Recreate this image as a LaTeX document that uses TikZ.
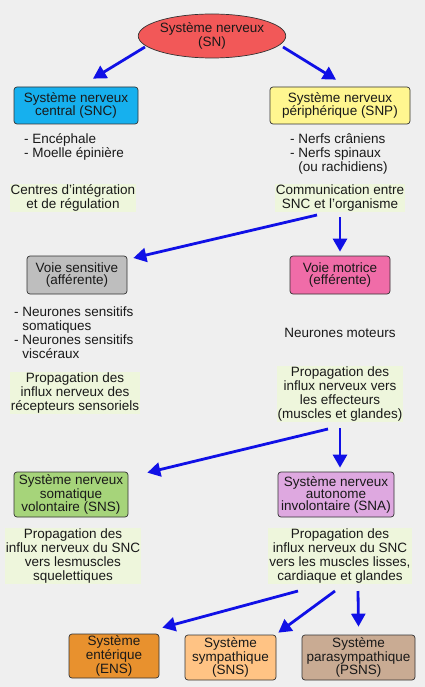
\documentclass[tikz,border=0pt]{standalone}
\usepackage{fontspec}
\setmainfont{Liberation Sans}
\usetikzlibrary{arrows.meta,shapes.geometric}
\definecolor{pagegray}{HTML}{EFEFEF}
\definecolor{flowblue}{HTML}{1010E6}
\definecolor{hlgreen}{HTML}{EEF6DC}
\definecolor{snred}{HTML}{F25858}
\definecolor{snccyan}{HTML}{16B0EE}
\definecolor{snpyellow}{HTML}{FFF690}
\definecolor{sensgray}{HTML}{BEBEBE}
\definecolor{motpink}{HTML}{F06CA8}
\definecolor{somagreen}{HTML}{A6D47A}
\definecolor{autoplum}{HTML}{DEA8E0}
\definecolor{ensorange}{HTML}{E8912E}
\definecolor{sympapricot}{HTML}{FFC384}
\definecolor{paratan}{HTML}{C9AB93}

\begin{document}
\begin{tikzpicture}[x=1pt, y=-1pt,
  every node/.style={align=center, font=\fontsize{13.5}{12}\selectfont, text=black!90},
  box/.style={draw=black!80, rectangle, rounded corners=3pt, line width=0.7pt, inner sep=1pt},
  txt/.style={font=\fontsize{13.5}{14}\selectfont, inner sep=1pt},
  hl/.style={txt, fill=hlgreen},
  flow/.style={-{Triangle[length=13pt,width=14pt]}, line width=2.8pt, draw=flowblue}]
\fill[pagegray] (0,0) rectangle (425,687);
\useasboundingbox (0,0) rectangle (425,687);

% Draw the systems as boxes
\node[draw=black!80, ellipse, fill=snred, line width=0.7pt, inner sep=0pt, minimum width=136pt, minimum height=44pt] (sn) at (212,36) {Système nerveux\\(SN)};
\node[box, fill=snccyan, minimum width=124pt, minimum height=37pt] (snc) at (76,105.5) {Système nerveux\\central (SNC)};
\node[box, fill=snpyellow, minimum width=140pt, minimum height=37pt] (snp) at (340,105.5) {Système nerveux\\périphérique (SNP)};
\node[box, fill=sensgray, minimum width=100pt, minimum height=38pt] (sens) at (77,275) {Voie sensitive\\(afférente)};
\node[box, fill=motpink, minimum width=100pt, minimum height=38pt] (mot) at (340,275) {Voie motrice\\(efférente)};
\node[box, fill=somagreen, minimum width=114pt, minimum height=45pt] (soma) at (71,494.5) {Système nerveux\\somatique\\volontaire (SNS)};
\node[box, fill=autoplum, minimum width=116pt, minimum height=45pt] (auto) at (336,494.5) {Système nerveux\\autonome\\involontaire (SNA)};
\node[box, fill=ensorange, minimum width=90pt, minimum height=44pt] (ens) at (114,656) {Système\\entérique\\(ENS)};
\node[box, fill=sympapricot, minimum width=91pt, minimum height=45pt] (symp) at (230.5,657.5) {Système\\sympathique\\(SNS)};
\node[box, fill=paratan, minimum width=113pt, minimum height=45pt] (para) at (358.5,657.5) {Système\\parasympathique\\(PSNS)};

% Texts under the boxes
\node[txt, align=left, anchor=west] (snclist) at (23,146.5) {- Encéphale\\- Moelle épinière};
\node[txt, align=left, anchor=west] (snplist) at (289,153.5) {- Nerfs crâniens\\- Nerfs spinaux\\\hphantom{- }(ou rachidiens)};
\node[hl] (integ) at (73,198) {Centres d'intégration\\et de régulation};
\node[hl] (comm) at (340,198) {Communication entre\\SNC et l'organisme};
\node[txt, align=left, anchor=west] (senslist) at (13,333) {- Neurones sensitifs\\\hphantom{- }somatiques\\- Neurones sensitifs\\\hphantom{- }viscéraux};
\node[txt] (moteurs) at (340,333) {Neurones moteurs};
\node[hl] (propsens) at (75,393) {Propagation des\\influx nerveux des\\récepteurs sensoriels};
\node[hl] (propmot) at (340,394) {Propagation des\\influx nerveux vers\\les effecteurs\\(muscles et glandes)};
\node[hl] (propsoma) at (73,556) {Propagation des\\influx nerveux du SNC\\vers lesmuscles\\squelettiques};
\node[hl] (propauto) at (340,556) {Propagation des\\influx nerveux du SNC\\vers les muscles lisses,\\cardiaque et glandes};

% Draw arrows
\draw[flow] ([shift={(-67,11)}]sn.center) -- ([shift={(17,-8)}]snc.north);
\draw[flow] ([shift={(71,11)}]sn.center) -- ([shift={(-4,-7)}]snp.north);
\draw[flow] ([shift={(-23,17)}]comm.center) -- ([shift={(6,-17)}]sens.east);
\draw[flow] ([shift={(0,19)}]comm.center) -- ([shift={(0,-4)}]mot.north);
\draw[flow] ([shift={(-12,35)}]propmot.center) -- ([shift={(19,1)}]soma.north east);
\draw[flow] ([shift={(0,34)}]propmot.center) -- ([shift={(4,-4)}]auto.north);
\draw[flow] ([shift={(-42,35)}]propauto.center) -- ([shift={(3,-6)}]ens.north east);
\draw[flow] ([shift={(-5,35)}]propauto.center) -- ([shift={(2,-2)}]symp.north east);
\draw[flow] ([shift={(18,35)}]propauto.center) -- ([shift={(0,-8)}]para.north);
\end{tikzpicture}
\end{document}
